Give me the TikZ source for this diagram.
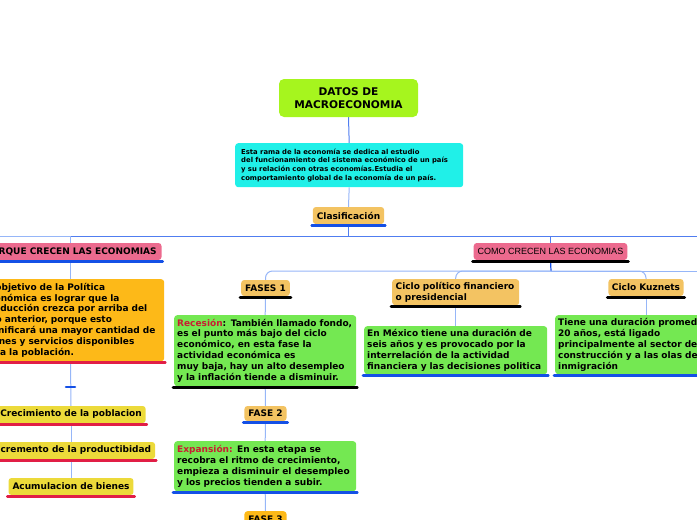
\documentclass[tikz,border=0pt]{standalone}
\usepackage{fontspec}
\setmainfont{DejaVu Sans}
\newfontfamily\arialfont{Liberation Sans}
\usepackage{xcolor}
\usepackage{tikz}
\usetikzlibrary{positioning, calc, backgrounds}
\definecolor{MACLime}{RGB}{166, 245, 30}
\definecolor{MACCyan}{RGB}{32, 240, 232}
\definecolor{MACTag}{RGB}{243, 195, 98}
\definecolor{MACPink}{RGB}{236, 106, 142}
\definecolor{MACOrange}{RGB}{253, 185, 24}
\definecolor{MACYellow}{RGB}{236, 218, 58}
\definecolor{MACGreen}{RGB}{116, 232, 82}
\definecolor{MACBlue}{RGB}{20, 80, 230}
\definecolor{MACCrimson}{RGB}{225, 30, 70}
\definecolor{MACRed}{RGB}{200, 30, 50}
\definecolor{MACLine}{RGB}{80, 125, 240}
\definecolor{MACLineLight}{RGB}{150, 182, 248}

\tikzset{
  basebox/.style={rounded corners=3pt, inner sep=0pt, inner xsep=4pt,
    font=\fontsize{9}{10.9}\selectfont\bfseries},
  tagbox/.style={basebox, fill=MACTag, minimum height=17pt},
  pinkbox/.style={basebox, fill=MACPink, minimum height=17pt},
  yellowbox/.style={basebox, fill=MACYellow, minimum height=17pt},
  greenbox/.style={basebox, fill=MACGreen, anchor=north west, align=left, inner xsep=3pt},
  link/.style={draw=MACLineLight, line width=1pt},
  linkdark/.style={draw=MACLine, line width=1pt}
}
\newcommand{\macbar}[2]{%
  \draw[line width=2.6pt, line cap=round, #2]
    ([xshift=-1pt,yshift=-1.3pt]#1.south west) -- ([xshift=1pt,yshift=-1.3pt]#1.south east);}

\begin{document}
\begin{tikzpicture}[x=1pt, y=-1pt]
  \useasboundingbox (0,0) rectangle (697,520);
  \clip (0,0) rectangle (697,520);

  % centro
  \node[basebox, fill=MACLime, rounded corners=5pt, minimum width=139pt, minimum height=38pt,
    align=center, font=\fontsize{10.6}{13}\selectfont\bfseries] (raiz) at (348.5,98)
    {DATOS DE\\MACROECONOMIA};
  \node[basebox, fill=MACCyan, anchor=north west, minimum width=228pt, minimum height=44pt,
    inner xsep=6pt, text width=216pt, align=left, font=\fontsize{6.85}{8.7}\selectfont\bfseries] (desc) at (235,143)
    {Esta rama de la economía se dedica al estudio\\
     del funcionamiento del sistema económico de un país\\
     y su relación con otras economías.Estudia el\\
     comportamiento global de la economía de un país.};
  \node[tagbox] (clas) at (348.5,215.5) {Clasificación};

  % rama izquierda
  \node[pinkbox, minimum width=182pt] (porque) at (70.5,251.5) {PORQUE CRECEN LAS ECONOMIAS};
  \node[basebox, fill=MACOrange, anchor=north west, minimum width=184pt, minimum height=82pt,
    inner xsep=3pt, text width=178pt, align=left] (objetivo) at (-20,279)
    {El objetivo de la Política\\
     económica es lograr que la\\
     producción crezca por arriba del\\
     año anterior, porque esto\\
     significará una mayor cantidad de\\
     bienes y servicios disponibles\\
     para la población.};
  \coordinate (knob) at (70.5,387);
  \node[yellowbox] (crec) at (71,414.5) {Crecimiento de la poblacion};
  \node[yellowbox] (incr) at (71,450.5) {Incremento de la productibidad};
  \node[yellowbox] (acum) at (71,486.5) {Acumulacion de bienes};

  % rama derecha
  \node[pinkbox, minimum width=153pt, font=\fontsize{9}{11}\selectfont\arialfont] (como) at (550.5,251.5)
    {COMO CRECEN LAS ECONOMIAS};
  \node[tagbox, minimum height=16pt] (fases1) at (265.5,288) {FASES 1};
  \node[greenbox, minimum width=182pt, minimum height=71pt, text width=176pt] (recesion) at (174,315)
    {\textcolor{MACRed}{Recesión}: También llamado fondo,\\
     es el punto más bajo del ciclo\\
     económico, en esta fase la\\
     actividad económica es\\
     muy baja, hay un alto desempleo\\
     y la inflación tiende a disminuir.};
  \node[tagbox, minimum height=15pt] (fase2) at (265.5,413.5) {FASE 2};
  \node[greenbox, minimum width=182pt, minimum height=50pt, text width=176pt] (expansion) at (174,441)
    {\textcolor{MACRed}{Expansión:} En esta etapa se\\
     recobra el ritmo de crecimiento,\\
     empieza a disminuir el desempleo\\
     y los precios tienden a subir.};
  \node[tagbox, fill=MACOrange, minimum height=16pt, anchor=north] (fase3) at (265.5,511) {FASE 3};

  \node[tagbox, anchor=north west, minimum width=127pt, minimum height=26pt, inner xsep=3.5pt,
    text width=120pt, align=left] (politico) at (392,279)
    {Ciclo político financiero\\o presidencial};
  \node[greenbox, minimum width=183pt, minimum height=48pt, text width=177pt] (mexico) at (364,326)
    {En México tiene una duración de\\
     seis años y es provocado por la\\
     interrelación de la actividad\\
     financiera y las decisiones politica};
  \node[tagbox, inner xsep=3.5pt] (kuznets) at (646,287.5) {Ciclo Kuznets};
  \node[greenbox, minimum width=190pt, minimum height=59pt, text width=184pt] (veinte) at (555,315)
    {Tiene una duración promedio de\\
     20 años, está ligado\\
     principalmente al sector de la\\
     construcción y a las olas de\\
     inmigración};

  % conectores
  \coordinate (hubA) at (348.5,236);
  \coordinate (offL) at (0,236);
  \coordinate (offR) at (697,236);
  \coordinate (hubB) at (551,271);
  \coordinate (offB) at (697,271);
  \begin{scope}[on background layer]
    \draw[linkdark] (raiz.south) -- (desc.north);
    \draw[link] (desc.south) -- (clas.north);
    \draw[linkdark] (clas.south) -- (hubA);
    \draw[link] (offL) -- (porque.north |- hubA);
    \draw[linkdark] (porque.north |- hubA) -- (offR);
    \draw[link] (porque.north |- hubA) -- (porque.north);
    \draw[linkdark] (como.north |- hubA) -- (como.north);
    \draw[link] (porque.south) -- (porque.south |- objetivo.north);
    \draw[link] (porque.south |- objetivo.south) -- (crec.north);
    \draw[link] (crec.south) -- (incr.north);
    \draw[link] (incr.south) -- (acum.north);
    \draw[draw=MACBlue, line width=1.2pt] (como.south) -- (hubB);
    \draw[link, rounded corners=7pt] (fases1.north) |- (hubB);
    \draw[link, rounded corners=7pt] (politico.north) |- (hubB);
    \draw[link, rounded corners=7pt] (kuznets.north) |- (hubB);
    \draw[link] (hubB) -- (offB);
    \draw[link] (fases1.south) -- (recesion.north);
    \draw[link] (recesion.south) -- (fase2.north);
    \draw[link] (fase2.south) -- (expansion.north);
    \draw[link] (expansion.south) -- (fase3.north);
    \draw[link] (politico.south) -- (mexico.north);
    \draw[link] (kuznets.south) -- (kuznets.south |- veinte.north);
  \end{scope}
  \draw[MACBlue, line width=2.6pt, line cap=round] ([xshift=-4.5pt]knob) -- ([xshift=4.5pt]knob);

  % subrayados
  \macbar{clas}{MACBlue}
  \macbar{porque}{MACBlue}
  \macbar{objetivo}{MACCrimson}
  \macbar{crec}{MACCrimson}
  \macbar{incr}{MACCrimson}
  \macbar{acum}{MACCrimson}
  \macbar{como}{black}
  \macbar{fases1}{black}
  \macbar{recesion}{black}
  \macbar{fase2}{MACBlue}
  \macbar{expansion}{MACBlue}
  \macbar{politico}{black}
  \macbar{mexico}{MACBlue}
  \macbar{kuznets}{black}
  \macbar{veinte}{MACBlue}
\end{tikzpicture}
\end{document}
